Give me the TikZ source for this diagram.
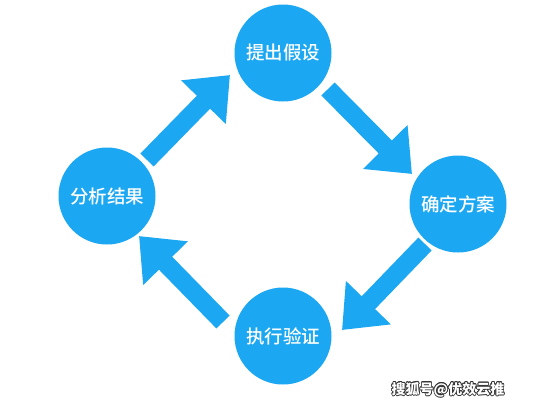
\documentclass[tikz,border=0pt]{standalone}
\usepackage{fontspec}
\usepackage{contour}
\newfontfamily\cjk{Noto Sans CJK SC}
\newfontfamily\cjkmed{Noto Sans CJK SC Medium}
\usetikzlibrary{arrows.meta}
\definecolor{cycleblue}{RGB}{27,167,242}
\contourlength{0.7pt}

\tikzset{
  stage/.style={circle, fill=cycleblue, minimum size=97pt, inner sep=0pt,
    text=white, font=\cjkmed\fontsize{18.5}{18.5}\selectfont},
  flow/.style={draw=cycleblue, line width=18.5pt,
    -{Triangle[width=60pt,length=38pt]}}
}

\begin{document}
\begin{tikzpicture}[x=1pt,y=-1pt]
  \useasboundingbox (0,0) rectangle (537,408);
  % the four steps
  \node[stage] (jiashe) at (283,53) {提出假设};
  \node[stage] (fangan) at (458,204) {确定方案};
  \node[stage] (yanzheng) at (283,336) {执行验证};
  \node[stage] (jieguo) at (107,196) {分析结果};
  % arrow ends
  \coordinate (tail1) at (147,160);
  \coordinate (tip1) at (230,75);
  \coordinate (tail2) at (328,89);
  \coordinate (tip2) at (412,174);
  \coordinate (tail3) at (425,244);
  \coordinate (tip3) at (342,330);
  \coordinate (tail4) at (223,322);
  \coordinate (tip4) at (139,236);
  \draw[flow] (tail1) -- (tip1);
  \draw[flow] (tail2) -- (tip2);
  \draw[flow] (tail3) -- (tip3);
  \draw[flow] (tail4) -- (tip4);
  % watermark
  \node[font=\cjk\bfseries\fontsize{14}{14}\selectfont] (mark) at (448,390)
    {\contour{black!80}{\textcolor{white}{搜狐号@优效云推}}};
\end{tikzpicture}
\end{document}
